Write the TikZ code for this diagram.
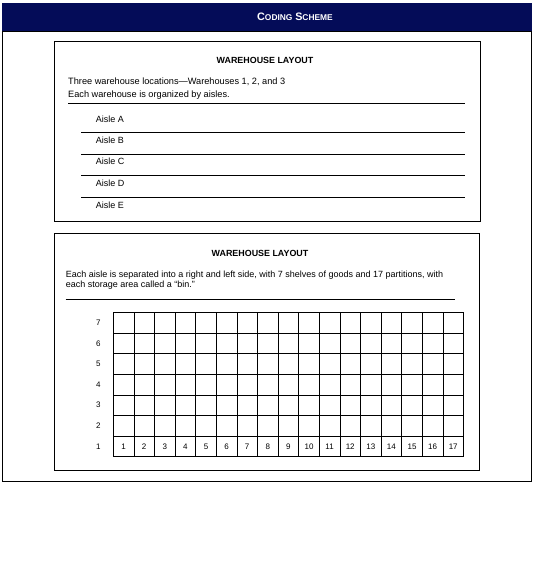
\documentclass[tikz,border=0pt]{standalone}
\usepackage{fontspec}
\setmainfont{Liberation Sans}
\definecolor{navy}{RGB}{4,12,88}

\tikzstyle{panel} = [draw=black, line width=0.9pt]
\tikzstyle{title} = [font=\bfseries\fontsize{8.9}{10}\selectfont, inner sep=0pt]
\tikzstyle{body} = [font=\fontsize{9.2}{10}\selectfont, anchor=west, inner sep=0pt]
\tikzstyle{aisle} = [font=\fontsize{9}{10}\selectfont, anchor=west, inner sep=0pt]
\tikzstyle{rule} = [line width=0.8pt]
\tikzstyle{bin} = [draw=black, line width=0.8pt, minimum size=20.6pt, inner sep=0pt,
text height=5.5pt, text depth=0pt, font=\fontsize{8}{9}\selectfont]
\tikzstyle{shelf} = [font=\fontsize{8}{9}\selectfont, inner sep=0pt,
text height=5.5pt, text depth=0pt]

\newcommand{\fakesc}[2]{{\fontsize{10.8}{10}\selectfont #1}{\fontsize{8.4}{10}\selectfont #2}}

\begin{document}
\begin{tikzpicture}[x=1pt, y=-1pt]
    \useasboundingbox (0,0) rectangle (534,588);
    % Header bar and outer frame
    \fill [navy] (2,3) rectangle (532,31);
    \node (head) [text=white, font=\bfseries, inner sep=0pt] at (295,17)
        {\fakesc{C}{ODING} \fakesc{S}{CHEME}};
    \draw [line width=0.9pt] (2.5,31) rectangle (531.7,481.5);
    % Upper panel: warehouse and aisles
    \draw [panel] (54.3,41.5) rectangle (480.7,221);
    \node (T1) [title] at (265,60) {WAREHOUSE LAYOUT};
    \node (L1a) [body] at (68,81.5) {Three warehouse locations—Warehouses 1, 2, and 3};
    \node (L1b) [body] at (68,95) {Each warehouse is organized by aisles.};
    \draw [rule] (68,103.3) -- (465,103.3);
    \node (AA) [aisle] at (95.7,119) {Aisle A};
    \node (AB) [aisle] at (95.7,140.5) {Aisle B};
    \node (AC) [aisle] at (95.7,161.5) {Aisle C};
    \node (AD) [aisle] at (95.7,183) {Aisle D};
    \node (AE) [aisle] at (95.7,205) {Aisle E};
    \draw [rule] (81,132.3) -- (465,132.3);
    \draw [rule] (81,154) -- (465,154);
    \draw [rule] (81,175.3) -- (465,175.3);
    \draw [rule] (81,197.3) -- (465,197.3);
    % Lower panel: shelves and partitions
    \draw [panel] (54.3,233.3) rectangle (479.3,470);
    \node (T2) [title] at (260,253) {WAREHOUSE LAYOUT};
    \node (L2a) [body, font=\fontsize{9}{10}\selectfont] at (65.7,275)
        {Each aisle is separated into a right and left side, with 7 shelves of goods and 17 partitions, with};
    \node (L2b) [body, font=\fontsize{9}{10}\selectfont] at (65.7,285.5)
        {each storage area called a “bin.”};
    \draw [rule] (65.7,299) -- (455,299);
    % Bins
    \foreach \c in {1,...,17} {
        \foreach \r in {2,...,7} {
            \node (bin-\c-\r) [bin] at ({123.6+(\c-1)*20.6},{446.4-(\r-1)*20.6}) {};
        }
        \node (bin-\c-1) [bin] at ({123.6+(\c-1)*20.6},446.4) {\c};
    }
    \foreach \r in {1,...,7}
        \node (shelf-\r) [shelf] at (98.3,{446.4-(\r-1)*20.6}) {\r};
\end{tikzpicture}
\end{document}
